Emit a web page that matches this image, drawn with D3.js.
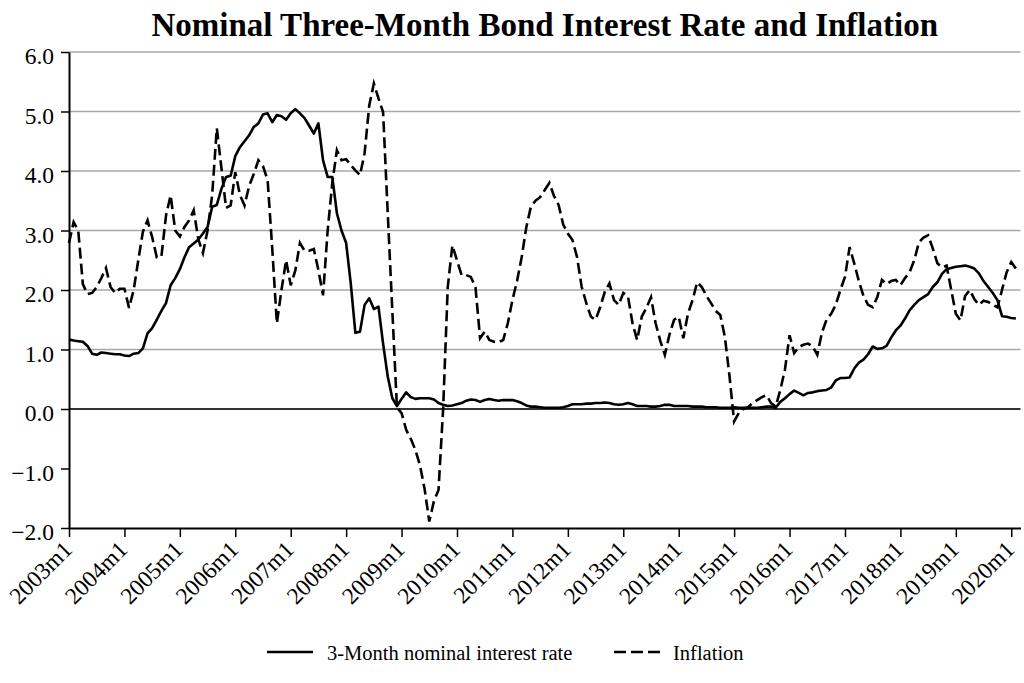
<!DOCTYPE html>
<html>
<head>
<meta charset="utf-8">
<script src="https://cdn.jsdelivr.net/npm/d3@7/dist/d3.min.js"></script>
<style>
  body { margin: 0; background: #fff; }
  svg text { font-family: "Liberation Serif", "Times New Roman", serif; fill: #000; }
</style>
</head>
<body>
<div id="chart-container"></div>
<script>
// monthly series, 2003m1 .. 2020m2 (one row per year)
var interestRate = [
    1.17, 1.15, 1.14, 1.13, 1.06, 0.93, 0.91, 0.95, 0.94, 0.93, 0.92, 0.92,
    0.90, 0.89, 0.93, 0.94, 1.02, 1.27, 1.36, 1.50, 1.65, 1.78, 2.08, 2.20,
    2.35, 2.55, 2.72, 2.78, 2.85, 2.95, 3.06, 3.40, 3.43, 3.70, 3.90, 3.92,
    4.25, 4.40, 4.50, 4.60, 4.74, 4.80, 4.95, 4.97, 4.82, 4.94, 4.92, 4.86,
    4.97, 5.04, 4.97, 4.89, 4.76, 4.63, 4.80, 4.18, 3.90, 3.90, 3.29, 3.00,
    2.79, 2.11, 1.28, 1.30, 1.75, 1.86, 1.68, 1.72, 1.10, 0.55, 0.18, 0.05,
    0.17, 0.28, 0.20, 0.17, 0.18, 0.18, 0.18, 0.16, 0.10, 0.07, 0.05, 0.06,
    0.08, 0.10, 0.14, 0.16, 0.15, 0.12, 0.15, 0.17, 0.15, 0.14, 0.15, 0.15,
    0.15, 0.13, 0.10, 0.06, 0.04, 0.04, 0.03, 0.02, 0.02, 0.02, 0.02, 0.03,
    0.05, 0.08, 0.08, 0.08, 0.09, 0.09, 0.10, 0.10, 0.11, 0.10, 0.08, 0.07,
    0.08, 0.10, 0.08, 0.05, 0.05, 0.05, 0.04, 0.04, 0.05, 0.07, 0.07, 0.05,
    0.05, 0.05, 0.05, 0.04, 0.04, 0.04, 0.03, 0.03, 0.03, 0.02, 0.02, 0.02,
    0.03, 0.02, 0.02, 0.02, 0.02, 0.02, 0.03, 0.04, 0.04, 0.02, 0.12, 0.18,
    0.25, 0.31, 0.27, 0.23, 0.27, 0.28, 0.30, 0.31, 0.32, 0.36, 0.48, 0.52,
    0.52, 0.53, 0.68, 0.78, 0.83, 0.92, 1.05, 1.01, 1.02, 1.06, 1.20, 1.32,
    1.40, 1.52, 1.66, 1.75, 1.83, 1.88, 1.93, 2.05, 2.13, 2.27, 2.35, 2.37,
    2.39, 2.40, 2.41, 2.39, 2.36, 2.28, 2.15, 2.05, 1.95, 1.83, 1.56, 1.55,
    1.53, 1.52
];

var inflation = [
    2.79, 3.14, 3.00, 2.10, 1.93, 1.95, 2.05, 2.20, 2.37, 2.05, 1.95, 2.02,
    2.02, 1.70, 2.00, 2.50, 2.98, 3.17, 2.89, 2.55, 2.56, 3.25, 3.59, 3.00,
    2.90, 3.06, 3.17, 3.34, 2.85, 2.62, 3.00, 3.60, 4.72, 4.05, 3.38, 3.42,
    3.98, 3.60, 3.42, 3.75, 3.95, 4.18, 4.08, 3.85, 2.70, 1.44, 2.00, 2.50,
    2.08, 2.33, 2.79, 2.66, 2.66, 2.69, 2.33, 1.91, 3.00, 3.80, 4.35, 4.18,
    4.20, 4.10, 4.01, 3.93, 4.30, 5.10, 5.47, 5.22, 4.99, 3.30, 1.65, 0.03,
    -0.07, -0.35, -0.50, -0.69, -0.95, -1.35, -1.89, -1.55, -1.36, 0.00, 2.05, 2.75,
    2.50, 2.25, 2.25, 2.22, 2.05, 1.19, 1.30, 1.16, 1.13, 1.12, 1.16, 1.44,
    1.83, 2.15, 2.55, 3.05, 3.40, 3.50, 3.56, 3.68, 3.80, 3.58, 3.43, 3.10,
    2.95, 2.84, 2.55, 2.05, 1.78, 1.55, 1.50, 1.71, 1.97, 2.11, 1.83, 1.75,
    1.95, 1.90, 1.44, 1.16, 1.55, 1.70, 1.88, 1.44, 1.15, 0.91, 1.25, 1.50,
    1.55, 1.19, 1.60, 1.83, 2.13, 2.05, 1.90, 1.78, 1.65, 1.58, 1.21, 0.55,
    -0.21, -0.07, 0.00, 0.03, 0.10, 0.15, 0.20, 0.23, 0.10, 0.04, 0.32, 0.66,
    1.24, 0.94, 1.04, 1.08, 1.10, 1.05, 0.91, 1.28, 1.50, 1.60, 1.75, 2.00,
    2.22, 2.72, 2.45, 2.15, 1.90, 1.75, 1.71, 1.88, 2.17, 2.10, 2.15, 2.17,
    2.08, 2.20, 2.30, 2.50, 2.80, 2.88, 2.92, 2.70, 2.45, 2.38, 2.41, 2.00,
    1.60, 1.49, 1.90, 2.00, 1.85, 1.75, 1.82, 1.80, 1.75, 1.71, 2.00, 2.30,
    2.47, 2.36
];

var tickLabels = ["2003m1", "2004m1", "2005m1", "2006m1", "2007m1", "2008m1",
    "2009m1", "2010m1", "2011m1", "2012m1", "2013m1", "2014m1", "2015m1",
    "2016m1", "2017m1", "2018m1", "2019m1", "2020m1"];

var yTicks = [-2, -1, 0, 1, 2, 3, 4, 5, 6];

function renderChart() {
    var svgWidth = 1024;
    var svgHeight = 683;
    var margin = { left: 69, right: 1020.5, top: 52, bottom: 528 };

    var svg = d3.select('#chart-container')
        .append('svg')
        .attr('width', svgWidth)
        .attr('height', svgHeight);

    // X scale: month index counted from 2003m1
    var x = d3.scaleLinear()
        .domain([0, 206])
        .range([margin.left, margin.right]);

    // Y scale
    var y = d3.scaleLinear()
        .domain([-2, 6])
        .range([margin.bottom, margin.top]);

    // title
    svg.append("text")
        .attr("x", (margin.left + margin.right) / 2)
        .attr("y", 36)
        .style("text-anchor", "middle")
        .style("font-size", "33px")
        .style("font-weight", "bold")
        .text("Nominal Three-Month Bond Interest Rate and Inflation");

    // gridlines
    svg.selectAll(".grid")
        .data(yTicks.filter(function(d) { return d > 0; }))
        .enter().append("line")
        .attr("class", "grid")
        .attr("x1", margin.left)
        .attr("x2", margin.right)
        .attr("y1", function(d) { return y(d); })
        .attr("y2", function(d) { return y(d); })
        .attr("stroke", "#a8a8a8")
        .attr("stroke-width", 1.3);

    // zero line
    svg.append("line")
        .attr("x1", margin.left)
        .attr("x2", margin.right)
        .attr("y1", y(0))
        .attr("y2", y(0))
        .attr("stroke", "#333")
        .attr("stroke-width", 2);

    // y axis
    var yAxis = svg.append('g')
        .attr('transform', 'translate(' + margin.left + ',0)')
        .call(d3.axisLeft(y).tickValues(yTicks).tickSize(8).tickSizeOuter(0)
            .tickFormat(d3.format(".1f")));
    yAxis.select(".domain").attr("stroke", "#000").attr("stroke-width", 2);
    yAxis.selectAll(".tick line").attr("stroke", "#000").attr("stroke-width", 1.5);
    yAxis.selectAll("text")
        .attr("x", -15)
        .attr("dy", "0.5em")
        .style("font-size", "23.5px")
        .style("font-family", "Liberation Serif, serif");

    // x axis
    var xAxis = svg.append('g')
        .attr('transform', 'translate(0,' + margin.bottom + ')')
        .call(d3.axisBottom(x).tickValues(tickLabels.map(function(_, i) { return i * 12; }))
            .tickSize(9).tickSizeOuter(0)
            .tickFormat(function(d) { return tickLabels[d / 12]; }));
    xAxis.select(".domain").attr("stroke", "#000").attr("stroke-width", 2);
    xAxis.selectAll(".tick line").attr("stroke", "#000").attr("stroke-width", 1.5);
    xAxis.selectAll("text")
        .attr("y", 0)
        .attr("dy", 0)
        .attr("transform", "translate(4,23) rotate(-45)")
        .style("text-anchor", "end")
        .style("font-size", "23.5px")
        .style("font-family", "Liberation Serif, serif");

    var line = d3.line()
        .x(function(d, i) { return x(i); })
        .y(function(d) { return y(d); });

    // inflation (dashed)
    svg.append("path")
        .datum(inflation)
        .attr("fill", "none")
        .attr("stroke", "#000")
        .attr("stroke-width", 2.6)
        .attr("stroke-dasharray", "11,5")
        .attr("d", line);

    // interest rate (solid)
    svg.append("path")
        .datum(interestRate)
        .attr("fill", "none")
        .attr("stroke", "#000")
        .attr("stroke-width", 2.6)
        .attr("stroke-linejoin", "round")
        .attr("d", line);

    // legend
    var legendY = 652;
    svg.append("line")
        .attr("x1", 267).attr("x2", 313)
        .attr("y1", legendY).attr("y2", legendY)
        .attr("stroke", "#000").attr("stroke-width", 2.6);
    svg.append("text")
        .attr("x", 327).attr("y", legendY + 8)
        .style("font-size", "20.5px")
        .text("3-Month nominal interest rate");
    svg.append("line")
        .attr("x1", 614).attr("x2", 660)
        .attr("y1", legendY).attr("y2", legendY)
        .attr("stroke", "#000").attr("stroke-width", 2.6)
        .attr("stroke-dasharray", "12,5");
    svg.append("text")
        .attr("x", 673).attr("y", legendY + 8)
        .style("font-size", "20.5px")
        .text("Inflation");
}

renderChart();
</script>
</body>
</html>
